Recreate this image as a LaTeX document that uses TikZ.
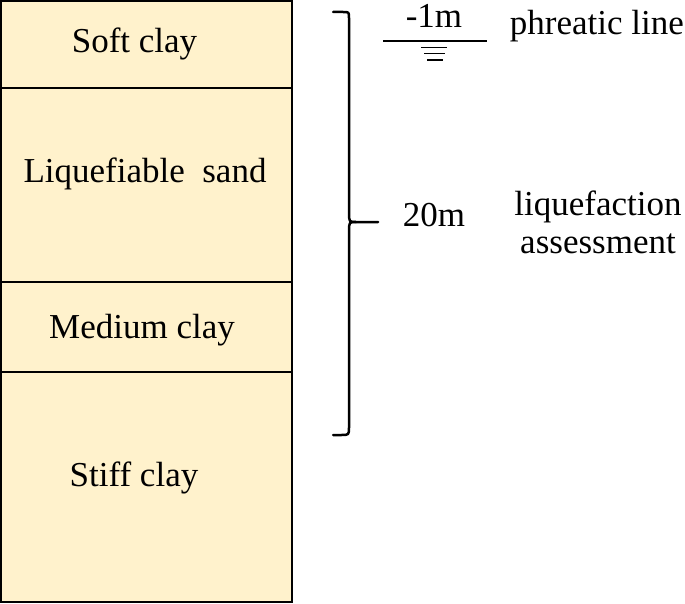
\documentclass[tikz,border=0pt]{standalone}
\usepackage{fontspec}
\setmainfont{Liberation Serif}
\definecolor{soil}{HTML}{FFF2CC}
\begin{document}
\begin{tikzpicture}[x=1pt,y=-1pt,
  layer/.style={draw=black,line width=2pt,fill=soil},
  lbl/.style={anchor=base,inner sep=0pt,font=\fontsize{35}{40}\selectfont},
  brace/.style={line width=2.5pt,line cap=round,line join=round}]
\useasboundingbox (0,0) rectangle (685,604);
% layers
\draw[layer] (1,1) rectangle (292,88);
\draw[layer] (1,88) rectangle (292,282);
\draw[layer] (1,282) rectangle (292,372);
\draw[layer] (1,372) rectangle (292,602);
\node[lbl] (soft) at (134.5,53) {Soft clay};
\node[lbl] (liq) at (145,183) {Liquefiable\ \ sand};
\node[lbl] (med) at (142,338) {Medium clay};
\node[lbl] (stiff) at (134,486) {Stiff clay};
% brace
\coordinate (bt) at (333,12);
\coordinate (tip) at (378,222);
\coordinate (bb) at (333,435);
\draw[brace] (bt) -- (343,12) .. controls (349,12) .. (349,18) -- (349,212)
  .. controls (349,222) .. (356,222) -- (tip);
\draw[brace] (356,222) .. controls (349,222) .. (349,232) -- (349,427)
  .. controls (349,435) .. (341,435) -- (bb);
% phreatic line symbol
\coordinate (wl) at (383,41);
\coordinate (wr) at (487,41);
\draw[line width=2pt] (wl) -- (wr);
\draw[line width=1.5pt] (421,47.5) -- (447,47.5);
\draw[line width=1.5pt] (424,53.5) -- (445,53.5);
\draw[line width=1.5pt] (427,60) -- (443,60);
\node[lbl] (m1) at (434,28) {-1m};
\node[lbl,anchor=base east] (phr) at (684,35) {phreatic line};
\node[lbl] (d20) at (434,226) {20m};
\node[lbl] (liqf) at (598,215) {liquefaction};
\node[lbl] (ass) at (598,253) {assessment};
\end{tikzpicture}
\end{document}
